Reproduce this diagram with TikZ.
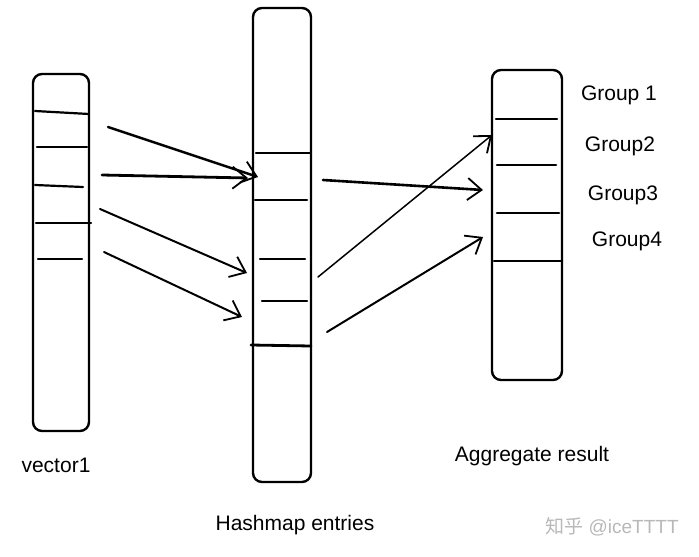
\documentclass[tikz,border=0pt]{standalone}
\usepackage{fontspec}
\setmainfont{Liberation Sans}
\newfontfamily\cjkfont{Noto Sans CJK SC}
\usetikzlibrary{positioning, calc, arrows.meta}

\begin{document}
\begin{tikzpicture}[x=1pt, y=-1pt, line cap=round,
        bucket/.style={draw, line width=2.4pt, rounded corners=9pt, inner sep=0pt},
        slot/.style={line width=2.2pt},
        link/.style={line width=2pt, -{Straight Barb[length=14pt, width=22pt, line width=1.8pt]}},
        lbl/.style={font=\fontsize{21}{24}\selectfont}]

        \useasboundingbox (0,0) rectangle (699,557);

        % The three columns
        \node[bucket, minimum width=56pt, minimum height=357pt] (vec) at (61,252.5) {};
        \node[bucket, minimum width=58pt, minimum height=474pt] (hash) at (282,245) {};
        \node[bucket, minimum width=70pt, minimum height=310pt] (agg) at (527,225) {};

        % Slots of vector1
        \foreach \xa/\xb/\ya/\yb in {35/89/111/114, 37/87/147/147, 35/83/185/187, 36/91/223/223, 38/82/259/259}
            \draw[slot] (\xa,\ya) -- (\xb,\yb);

        % Slots of the hashmap
        \foreach \xa/\xb/\y in {256/311/153, 255/307/200, 260/305/259, 262/307/301}
            \draw[slot] (\xa,\y) -- (\xb,\y);
        \draw[slot, line width=2.8pt] (251,345) -- (311,346);

        % Slots of the result
        \foreach \xa/\xb/\y in {496/557/119, 497/556/165, 497/559/213, 494/562/261}
            \draw[slot, line width=2.6pt] (\xa,\y) -- (\xb,\y);

        % Arrow ends
        \coordinate (v1) at (108,127);
        \coordinate (v2) at (102,175);
        \coordinate (v3) at (100,209);
        \coordinate (v4) at (104,252);
        \coordinate (h1) at (258,177);
        \coordinate (h2) at (248,178);
        \coordinate (h3) at (247,273);
        \coordinate (h4) at (242,317);
        \coordinate (ha) at (323,180);
        \coordinate (hb) at (318,277);
        \coordinate (hc) at (327,332);
        \coordinate (ra) at (483,190);
        \coordinate (rb) at (492,135);
        \coordinate (rc) at (483,237);

        % vector1 -> hashmap
        \draw[link, line width=2.4pt] (v1) -- (h1);
        \draw[link, line width=2.8pt] (v2) -- (h2);
        \draw[link] (v3) -- (h3);
        \draw[link] (v4) -- (h4);

        % hashmap -> result
        \draw[link, line width=2.6pt] (ha) -- (ra);
        \draw[link, line width=1.5pt] (hb) -- (rb);
        \draw[link] (hc) -- (rc);

        % Labels
        \node[lbl] (g1) at (619,95) {Group 1};
        \node[lbl] (g2) at (620,146) {Group2};
        \node[lbl] (g3) at (623,195) {Group3};
        \node[lbl] (g4) at (627,241) {Group4};
        \node[lbl] (vlbl) at (56,465) {vector1};
        \node[lbl] (hlbl) at (295,525) {Hashmap entries};
        \node[lbl] (albl) at (532,456) {Aggregate result};
        \node[font=\fontsize{19}{22}\selectfont, text=black!28] (mark) at (612,527) {{\cjkfont 知乎} @iceTTTT};

    \end{tikzpicture}
\end{document}
